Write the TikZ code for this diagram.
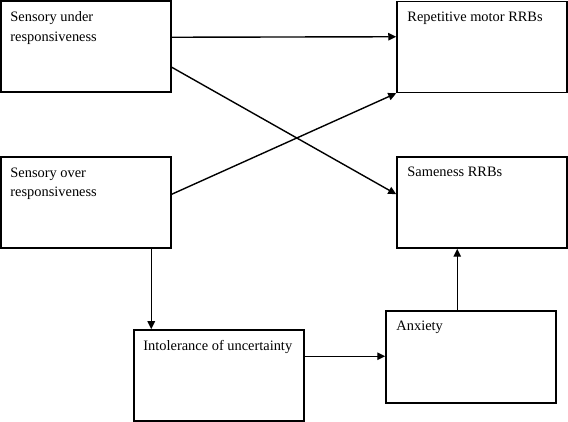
\documentclass[tikz,border=0pt]{standalone}
\usepackage{fontspec}
\setmainfont{Liberation Serif}
\usetikzlibrary{arrows.meta}
\begin{document}
\begin{tikzpicture}[x=1pt,y=-1pt,
  box/.style={draw=black, line width=1.5pt, fill=white, minimum width=170pt, minimum height=91pt, inner sep=0pt},
  lbl/.style={anchor=north west, inner sep=0pt, align=left, font=\fontsize{14.4}{19.5}\selectfont},
  conn/.style={line width=1.4pt, -{Triangle[length=8pt,width=7.5pt]}}]
\useasboundingbox (0,0) rectangle (568,422);
\node[box] (A) at (86,46.5) {};
\node[box] (B) at (482,47) {};
\node[box] (C) at (86,202.5) {};
\node[box] (D) at (482,202.5) {};
\node[box] (E) at (219,375.5) {};
\node[box, minimum height=92pt] (F) at (471,357) {};
\node[lbl] (tA) at ([xshift=10pt,yshift=-11.5pt]A.north west) {Sensory under\\responsiveness};
\node[lbl] (tB) at ([xshift=11pt,yshift=-11pt]B.north west) {Repetitive motor RRBs};
\node[lbl] (tC) at ([xshift=10pt,yshift=-11.5pt]C.north west) {Sensory over\\responsiveness};
\node[lbl] (tD) at ([xshift=11pt,yshift=-11pt]D.north west) {Sameness RRBs};
\node[lbl] (tE) at ([xshift=10pt,yshift=-11pt]E.north west) {Intolerance of uncertainty};
\node[lbl] (tF) at ([xshift=11pt,yshift=-11pt]F.north west) {Anxiety};
\coordinate (e1) at ([yshift=-27pt]E.north east);
\coordinate (c1) at ([xshift=151pt]C.south west);
\coordinate (f1) at ([xshift=72pt]F.north west);
\draw[conn] ([yshift=-37pt]A.north east) -- ([yshift=-36pt]B.north west);
\draw[conn] ([yshift=-67pt]A.north east) -- ([yshift=-38pt]D.north west);
\draw[conn] ([yshift=-38pt]C.north east) -- (B.south west);
\draw[conn] (c1) -- (c1 |- E.north);
\draw[conn] (e1) -- (e1 -| F.west);
\draw[conn] (f1) -- (f1 |- D.south);
\end{tikzpicture}
\end{document}
